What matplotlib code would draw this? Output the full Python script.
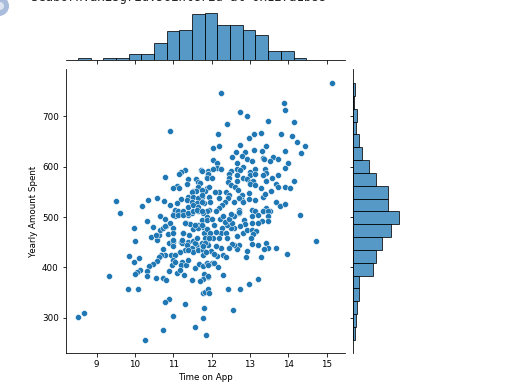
import numpy as np
import matplotlib
matplotlib.use("Agg")
import matplotlib.pyplot as plt
from matplotlib.patches import Circle

points = [
(10.91,671),(10.79,579),(11.30,593),(11.19,590),(11.14,585),(11.73,593),(11.91,592),(11.91,585),(11.87,579),(11.37,575),
(11.58,576),(11.65,569),(11.35,565),(11.70,567),(11.09,562),(11.0,557),(11.15,557),(11.65,560),(11.87,558),(9.5,532),
(9.61,507),(10.18,521),(10.34,534),(10.58,538),(10.75,532),(10.91,524),(11.19,536),(11.51,551),(11.58,551),
(15.14,766),(12.23,745),(13.88,726),(13.92,712),(12.74,708),(12.91,701),(13.48,691),(14.14,689),(12.39,685),(12.16,664),
(13.29,666),(13.10,664),(12.98,657),(13.82,664),(14.09,660),(14.23,648),(14.44,641),(14.34,626),(13.92,630),(12.04,637),
(12.18,641),(12.74,643),(13.42,641),(12.63,629),(12.88,629),(13.10,632),(13.31,630),(12.52,618),(12.80,620),(12.91,615),
(13.05,610),(13.34,617),(13.37,614),(13.59,619),(13.52,611),(13.73,614),(13.99,606),(13.90,597),(12.04,613),(12.13,606),
(12.13,598),(12.04,596),(12.23,596),(11.91,585),(11.88,578),(12.01,577),(11.74,592),(12.65,606),(12.81,600),(12.66,595),
(12.74,593),(12.51,591),(12.46,585),(12.67,583),(12.46,577),(12.66,571),(12.81,577),(13.0,590),(13.14,595),(13.0,583),
(13.14,585),(13.40,596),(13.41,588),(13.34,583),(13.57,577),(13.41,571),(13.74,583),(13.69,566),(13.74,559),(13.90,559),
(14.03,557),(14.14,571),(12.92,575),(13.0,570),(13.08,571),(12.99,565),(12.43,570),(12.50,563),(12.62,560),(12.68,553),
(12.38,550),(12.46,544),(13.14,563),(13.29,557),(13.12,534),(13.34,540),(13.40,545),(13.55,551),(13.69,530),(13.77,521),
(13.90,525),(14.30,503),(12.96,547),(12.96,536),(12.79,544),(12.79,534),(12.70,537),(12.57,530),(12.81,529),(12.42,537),
(12.35,530),(12.18,549),(12.09,549),(11.94,559),(11.94,540),(11.83,551),(11.74,553),(12.18,538),(12.26,524),(11.96,530),
(11.74,540),(11.79,528),(12.18,518),(11.94,514),(11.87,511),(12.12,511),(12.72,514),(12.72,508),(13.05,514),(13.42,517),
(13.51,512),(13.35,511),(13.14,511),
(10.32,493),(9.97,479),(10.65,502),(10.77,496),(10.48,481),(9.99,452),(10.41,460),(10.58,454),(10.62,464),(10.54,464),
(10.65,474),(10.81,483),(10.91,489),(10.98,479),(10.74,478),(10.86,466),(11.0,468),(11.24,468),(11.41,465),(11.33,488),
(11.43,486),(11.52,476),(11.65,484),(11.02,507),(11.09,511),(11.23,507),(11.38,504),(11.48,507),(11.65,511),(11.78,507),
(11.04,502),(11.74,494),(11.87,501),(11.78,481),(11.87,474),(11.80,468),(11.91,461),(10.88,448),(11.0,451),(11.0,443),
(10.72,437),(11.19,451),(11.23,448),(11.39,451),(11.52,453),(11.61,445),(11.39,441),(11.30,435),(11.17,430),(11.48,438),
(11.52,431),(11.65,435),(11.74,445),(11.78,435),(11.87,448),(11.91,444),(10.94,425),(11.04,425),(10.79,425),(10.68,425),
(10.62,421),(10.56,412),(10.46,407),(10.36,402),(10.11,418),(9.85,423),(9.97,411),(10.13,395),(10.06,392),(10.01,387),
(9.33,384),(10.30,393),(10.32,384),(10.54,379),(10.72,379),(10.81,375),(10.88,393),(10.98,415),(10.96,405),(11.04,411),
(11.23,411),(11.19,405),(11.10,390),(11.17,395),(11.28,386),(11.33,405),(11.39,415),(11.57,398),(11.67,407),(11.78,402),
(11.87,408),(11.81,388),(11.91,382),(11.48,375),(11.76,377),(11.70,373),(9.82,357),(10.08,357),(10.88,338),(10.77,331),
(11.30,327),(11.80,320),(11.0,304),(11.76,299),(8.67,309),(8.51,302),(10.74,276),(11.57,282),(11.85,266),(10.27,256),
(11.76,349),(11.83,351),(11.91,357),
(14.72,452),(13.69,439),(13.97,427),(13.42,449),(13.46,439),(13.37,436),(13.29,421),(13.20,445),(13.05,446),(12.93,432),
(12.89,420),(12.72,445),(12.67,437),(12.59,445),(12.53,447),(12.46,439),(12.23,439),(12.11,443),(11.98,432),(12.13,423),
(12.29,425),(12.37,421),(12.06,427),(11.78,425),(11.85,431),(11.87,408),(12.0,409),(12.07,409),(11.91,405),(12.16,400),
(11.91,383),(12.30,386),(11.93,350),(12.42,357),(12.74,357),(12.98,368),(13.20,377),(12.56,315),
(11.87,494),(12.0,497),(12.72,509),(13.05,502),(13.20,504),(13.35,511),(13.48,511),(13.48,502),(13.48,493),(13.31,493),
(13.20,489),(13.05,489),(12.83,494),(12.87,486),(12.74,482),(12.81,468),(12.66,462),(12.92,474),(13.05,474),(13.16,472),
(13.09,466),(13.03,459),(12.59,478),(12.50,478),(12.39,484),(12.54,489),(12.35,491),(12.44,497),(12.57,502),(12.50,506),
(12.22,497),(12.30,502),(12.06,484),(12.26,478),(12.24,469),(12.12,471),(12.04,458),(12.18,459),(12.38,468),(12.39,458),
(11.89,476),(11.96,468),(11.83,458),(11.94,458),(11.74,448),(11.83,448),(11.78,443),
(11.48,550),(11.39,540),(11.52,540),(11.65,537),(11.74,543),(11.35,534),(11.48,530),(11.61,527),(11.74,530),(11.39,520),
(11.52,524),(11.65,520),(11.09,527),(11.04,514),(11.13,511),(11.24,511),(11.0,504),(11.13,504),(11.26,504),(11.39,507),
(11.51,511),(11.61,514),(11.74,511),(10.79,482),(11.0,455),(11.26,468),(11.22,455),(11.35,445),(11.57,448),(11.39,435),
(11.61,458),(11.65,478),(11.74,484),(11.30,489),(11.57,484),
]
time_on_app = [p[0] for p in points]
yearly_spent = [p[1] for p in points]

app_counts = [3, 0, 3, 3, 9, 10, 25, 43, 45, 68, 70, 52, 52, 45, 38, 14, 13, 4, 1, 1]
app_range = (8.508, 15.127)
spent_counts = [3, 4, 6, 9, 9, 33, 38, 47, 61, 75, 57, 57, 37, 26, 15, 9, 5, 6, 1, 3]
spent_range = (256.67, 765.52)
cell_text = "Seaborn.axisgrid.JointGrid at 0x127a1b88"

plt.rcParams["font.size"] = 8.8
plt.rcParams["axes.labelsize"] = 8.8
plt.rcParams["xtick.labelsize"] = 8.8
plt.rcParams["ytick.labelsize"] = 8.8

W, H = 511, 391
fig = plt.figure(figsize=(W / 72, H / 72), dpi=72)


def px_axes(left, top, right, bottom):
    return fig.add_axes([left / W, 1 - bottom / H, (right - left) / W, (bottom - top) / H])


ax = px_axes(65.7, 69, 344.7, 353)
ax_top = px_axes(65.7, 10.5, 344.7, 60.3)
ax_right = px_axes(353.3, 69, 401.3, 353)

ax.scatter(time_on_app, yearly_spent, s=36, color="#1f77b4", edgecolor="white", linewidth=0.48)
ax.set_xlim(8.19, 15.47)
ax.set_ylim(230.6, 793.2)
ax.set_xticks([9, 10, 11, 12, 13, 14, 15])
ax.set_yticks([300, 400, 500, 600, 700])
ax.set_xlabel("Time on App")
ax.set_ylabel("Yearly Amount Spent")
ax.spines[["top", "right"]].set_visible(False)

x_edges = np.linspace(*app_range, len(app_counts) + 1)
ax_top.bar(x_edges[:-1], app_counts, width=np.diff(x_edges), align="edge",
           color="#1f77b4", alpha=0.75, edgecolor="black", linewidth=1)
ax_top.set_xlim(ax.get_xlim())
ax_top.set_xticks(ax.get_xticks())
ax_top.set_ylim(0, 73.5)
ax_top.set_yticks([])
ax_top.tick_params(labelbottom=False)
ax_top.spines[["top", "right", "left"]].set_visible(False)

y_edges = np.linspace(*spent_range, len(spent_counts) + 1)
ax_right.barh(y_edges[:-1], spent_counts, height=np.diff(y_edges), align="edge",
              color="#1f77b4", alpha=0.75, edgecolor="black", linewidth=1)
ax_right.set_ylim(ax.get_ylim())
ax_right.set_yticks(ax.get_yticks())
ax_right.set_xlim(0, 78.7)
ax_right.set_xticks([])
ax_right.tick_params(labelleft=False)
ax_right.spines[["top", "right", "bottom"]].set_visible(False)

# Cropped notebook output line and avatar at the top edge of the screenshot
fig.text(31 / W, 1 - 1.5 / H, cell_text, family="DejaVu Sans Mono", fontsize=12.2,
         ha="left", va="baseline", color="#222222")
fig.add_artist(Circle((-1 / 72, (H - 6) / 72), 9.5 / 72, color="#a9bcdc",
                      transform=fig.dpi_scale_trans, clip_on=True))
fig.add_artist(Circle((0 / 72, (H - 6) / 72), 3.5 / 72, color="#dde5f2",
                      transform=fig.dpi_scale_trans, clip_on=True))

fig.savefig("out.png", dpi=72)
